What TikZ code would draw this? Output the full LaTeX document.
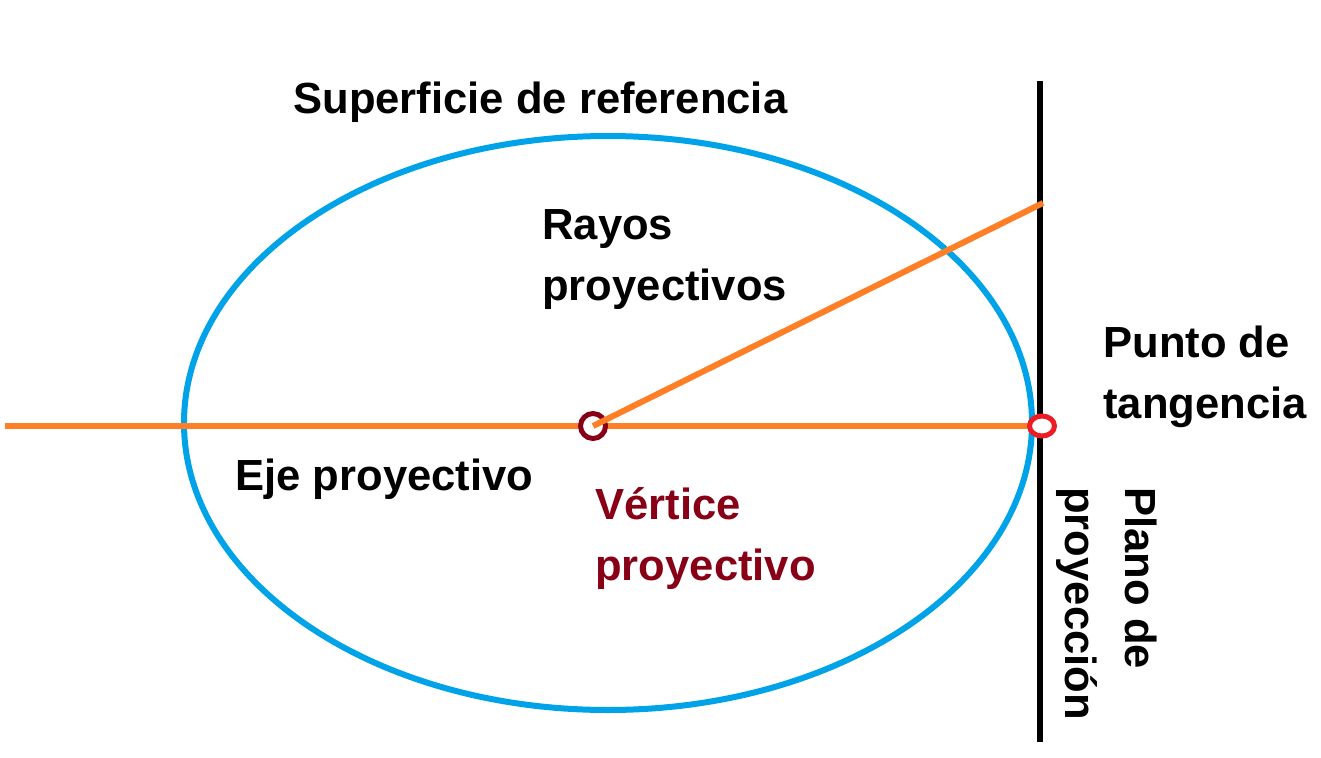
\documentclass[tikz,border=0pt]{standalone}
\usepackage{tikz}
\usepackage{xcolor}
\usepackage{fontspec}
\setmainfont{Liberation Sans}
\usetikzlibrary{positioning}
\usetikzlibrary{shapes.geometric}
\definecolor{naranjaColor}{RGB}{255,127,39}
\definecolor{azulColor}{RGB}{0,162,232}
\definecolor{verticeColor}{RGB}{136,0,21}
\definecolor{tangColor}{RGB}{237,28,36}
\pgfdeclarelayer{background}
\pgfdeclarelayer{foreground}
\pgfsetlayers{background,main,foreground}
\tikzset{
  etiqueta/.style={anchor=base west, inner sep=0pt, align=left,
    font=\fontsize{24.8}{34.6}\selectfont\bfseries},
  vertice/.style={circle, draw=verticeColor, fill=white, line width=0.1cm,
    minimum size=0.5cm, inner sep=0pt},
  tangente/.style={ellipse, draw=tangColor, fill=white, line width=0.1cm,
    minimum width=0.5cm, minimum height=0.4cm, inner sep=0pt},
  rayo/.style={naranjaColor, line width=0.12cm}
}
\begin{document}
\begin{tikzpicture}[x=0.02cm,y=-0.02cm,]
\useasboundingbox (0,0) rectangle (1321,757);

\node [vertice] (V) at (593,426) {};
\node [tangente] (T) at (1042,426) {};
\coordinate (ejeIzq) at (5,426);
\coordinate (planoSup) at (1040,81);
\coordinate (planoInf) at (1040,742);
\coordinate (rayoFin) at (1043,203);

\begin{pgfonlayer}{background}
\draw [azulColor, line width=0.12cm] (608,423) ellipse [x radius=424, y radius=287];
\draw [rayo] (ejeIzq) -- (T.center);
\draw [black, line width=0.12cm] (planoSup) -- (planoInf);
\end{pgfonlayer}
\begin{pgfonlayer}{foreground}
\draw [rayo] (V.center) -- (rayoFin);
\end{pgfonlayer}

% two-line labels sit on the baseline of their last line
\node [etiqueta] (superficie) at (293,113) {Superficie de referencia};
\node [etiqueta] (rayos) at (542,300) {Rayos\\proyectivos};
\node [etiqueta] (punto) at (1103,418) {Punto de\\tangencia};
\node [etiqueta] (eje) at (235,490) {Eje proyectivo};
\node [etiqueta, verticeColor] (verticeTxt) at (595,580) {Vértice\\proyectivo};
\node [etiqueta, rotate=-90] (plano) at (1065,487) {Plano de\\proyección};
\end{tikzpicture}
\end{document}
